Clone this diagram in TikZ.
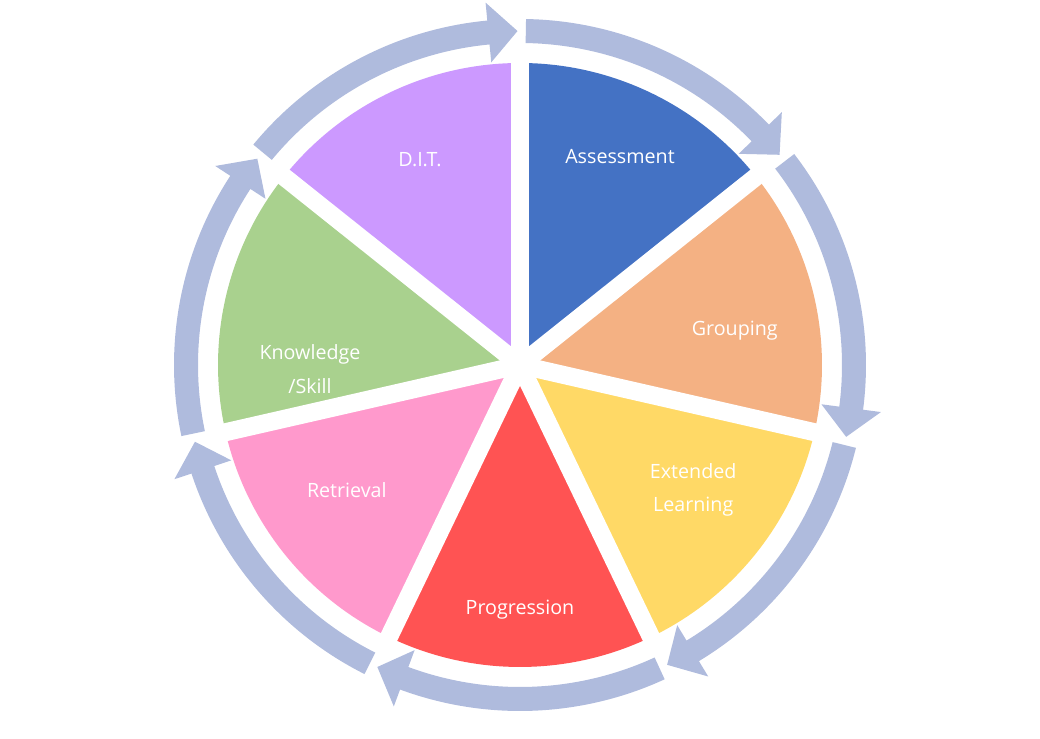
\documentclass[tikz,border=0pt]{standalone}
\usepackage{fontspec}
\setmainfont{Open Sans}
\usetikzlibrary{calc}
\definecolor{ringblue}{HTML}{AFBBDD}
\definecolor{cAssess}{HTML}{4472C4}
\definecolor{cGroup}{HTML}{F4B183}
\definecolor{cExt}{HTML}{FFD966}
\definecolor{cProg}{HTML}{FF5353}
\definecolor{cRetr}{HTML}{FF99CC}
\definecolor{cKnow}{HTML}{A9D18E}
\definecolor{cDit}{HTML}{CC99FF}
\tikzset{
  seglabel/.style={text=white, align=center, font=\fontsize{14}{24}\selectfont},
  gapline/.style={white, line width=4.5mm}
}

\begin{document}
\begin{tikzpicture}
            \useasboundingbox (0,0) rectangle (26,18.475);
            \coordinate (hub) at (13,9.35);

            % wedges
            \foreach \col [count=\i] in {cAssess,cGroup,cExt,cProg,cRetr,cKnow,cDit} {
              \pgfmathsetmacro{\a}{90-(\i-1)*360/7}
              \pgfmathsetmacro{\b}{\a-360/7}
              \fill[\col] (hub) -- ++(\a:7.55) arc[start angle=\a, end angle=\b, radius=7.55] -- cycle;
            }
            \foreach \i in {0,...,6} {
              \draw[gapline] (hub) -- ++({90-\i*360/7}:9.3);
            }

            % outer ring arrows
            \foreach \i in {0,...,6} {
              \pgfmathsetmacro{\a}{89-\i*360/7}
              \pgfmathsetmacro{\e}{\a-45}
              \pgfmathsetmacro{\t}{\a-50}
              \fill[ringblue] ($(hub)+(\a:8.05)$) arc[start angle=\a, end angle=\e, radius=8.05]
                -- ($(hub)+(\e:7.6)$) -- ($(hub)+(\t:8.35)$) -- ($(hub)+(\e:9.1)$)
                -- ($(hub)+(\e:8.65)$) arc[start angle=\e, end angle=\a, radius=8.65] -- cycle;
            }

            \node[seglabel] (assess) at (15.5,14.55) {Assessment};
            \node[seglabel] (dit) at (10.5,14.48) {D.I.T.};
            \node[seglabel] (group) at (18.37,10.22) {Grouping};
            \node[seglabel] (ext) at (17.33,6.23) {Extended\\Learning};
            \node[seglabel] (prog) at (13,3.23) {Progression};
            \node[seglabel] (retr) at (8.67,6.23) {Retrieval};
            \node[seglabel] (know) at (7.75,9.25) {Knowledge\\/Skill};
        \end{tikzpicture}
\end{document}
